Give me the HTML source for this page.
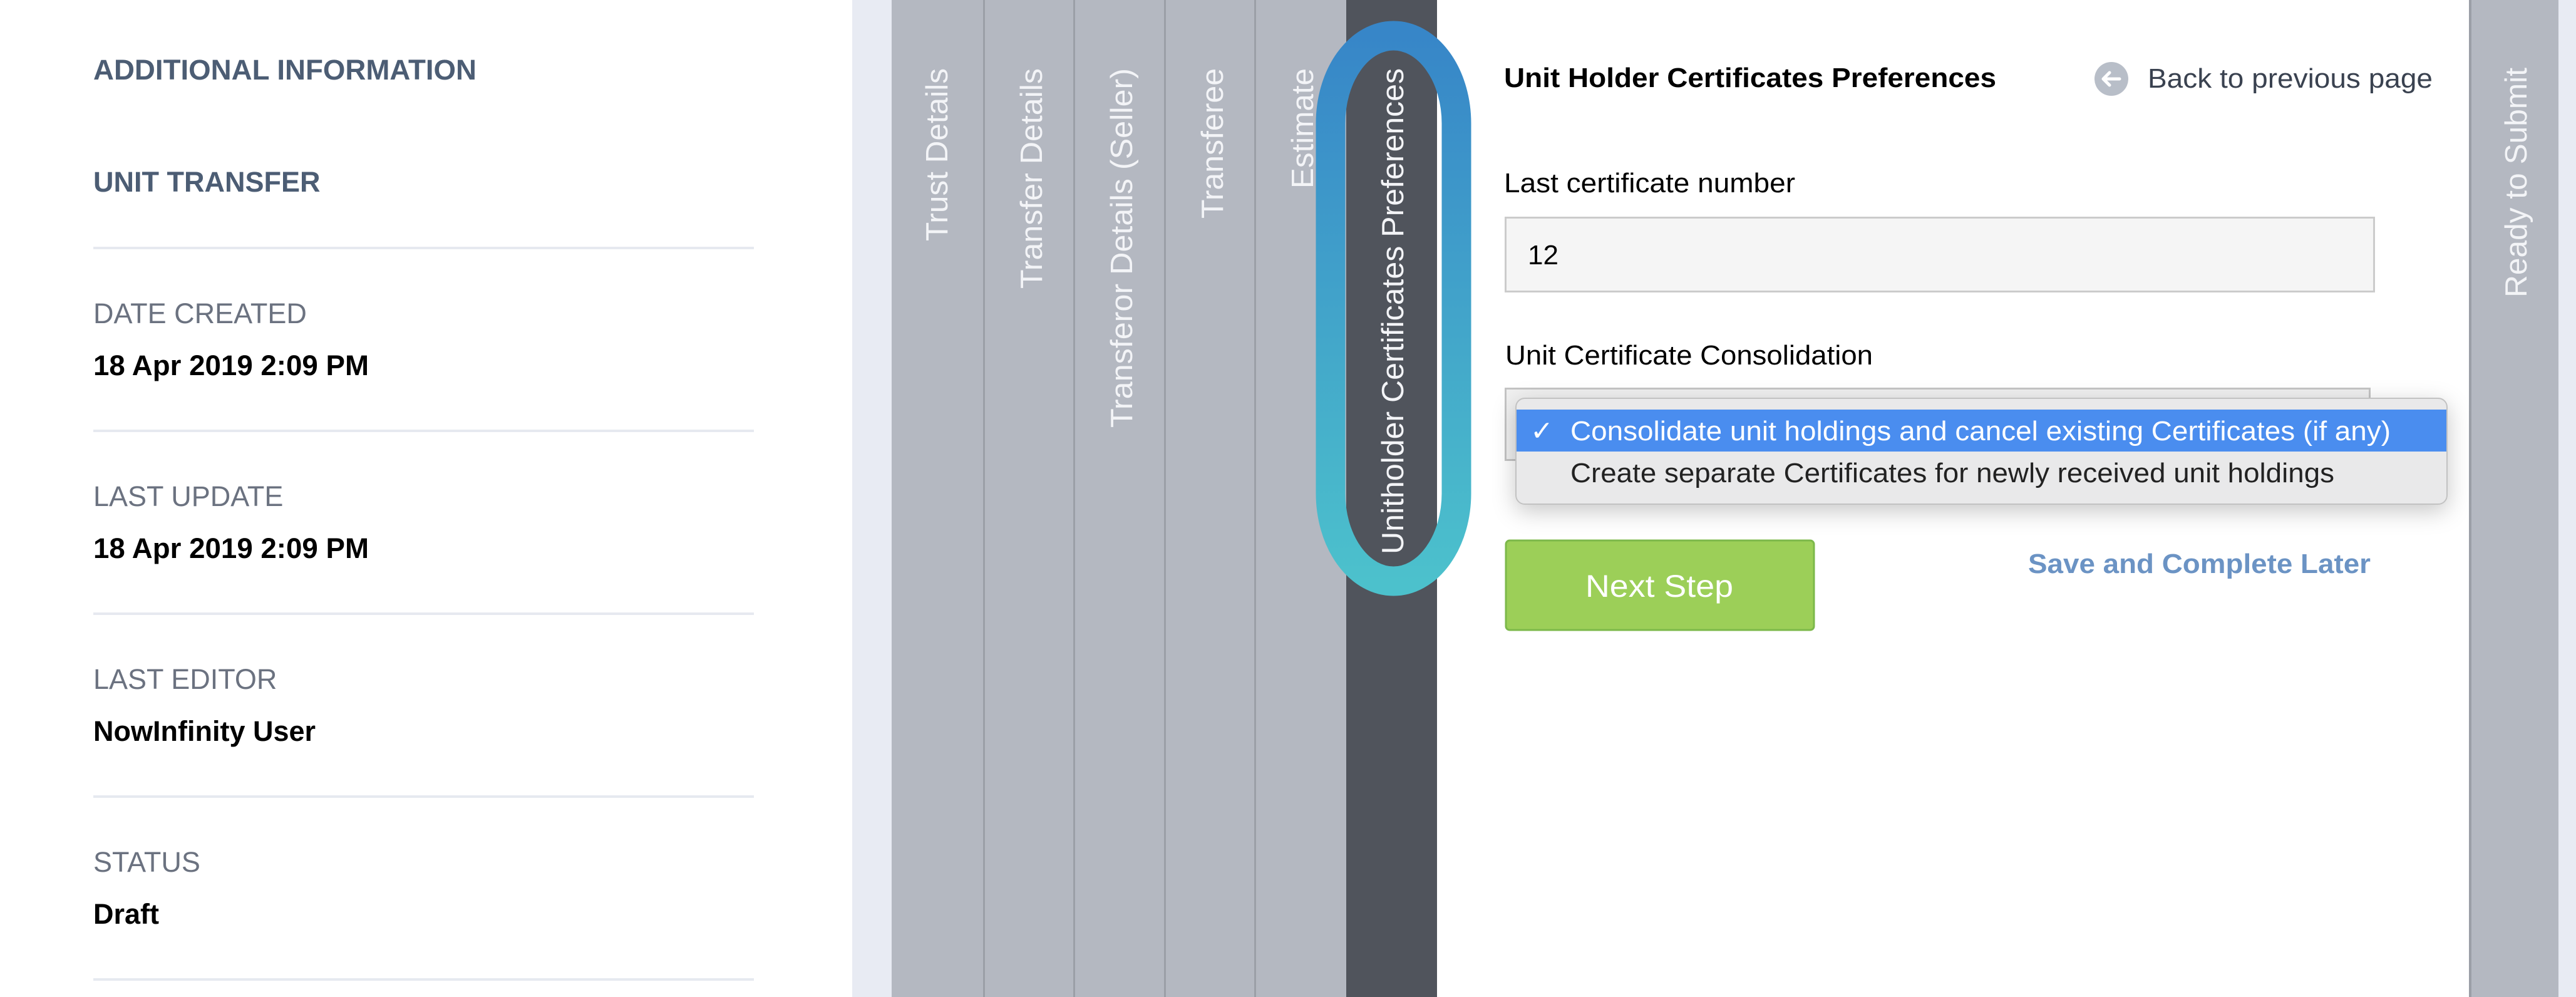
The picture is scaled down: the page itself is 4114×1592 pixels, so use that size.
<!DOCTYPE html>
<html><head><meta charset="utf-8"><style>html,body{margin:0;padding:0;background:#fff}svg{display:block}text{font-family:"Liberation Sans",Arial,sans-serif}</style></head>
<body>
<svg width="4114" height="1592" viewBox="0 0 4114 1592" xmlns="http://www.w3.org/2000/svg">
<defs>
<linearGradient id="g" x1="0" y1="0" x2="0" y2="1"><stop offset="0" stop-color="#3786c8"/><stop offset="1" stop-color="#4cc1cc"/></linearGradient>
<filter id="sh" x="-10%" y="-30%" width="120%" height="180%"><feDropShadow dx="0" dy="10" stdDeviation="18" flood-color="#000" flood-opacity="0.22"/></filter>
</defs>
<rect width="4114" height="1592" fill="#fff"/>
<g font-size="45">
<text x="149" y="127" font-weight="bold" fill="#4c5d74" textLength="612" lengthAdjust="spacingAndGlyphs">ADDITIONAL INFORMATION</text>
<text x="149" y="306" font-weight="bold" fill="#4c5d74">UNIT TRANSFER</text>
<g fill="#e6e9f0"><rect x="149" y="394" width="1055" height="4"/><rect x="149" y="686" width="1055" height="4"/><rect x="149" y="978" width="1055" height="4"/><rect x="149" y="1270" width="1055" height="4"/><rect x="149" y="1562" width="1055" height="4"/></g>
<g fill="#6b7280">
<text x="149" y="516">DATE CREATED</text>
<text x="149" y="808">LAST UPDATE</text>
<text x="149" y="1100">LAST EDITOR</text>
<text x="149" y="1392">STATUS</text>
</g>
<g fill="#000" font-weight="bold">
<text x="149" y="599" textLength="440" lengthAdjust="spacingAndGlyphs">18 Apr 2019 2:09 PM</text>
<text x="149" y="891" textLength="440" lengthAdjust="spacingAndGlyphs">18 Apr 2019 2:09 PM</text>
<text x="149" y="1183">NowInfinity User</text>
<text x="149" y="1475">Draft</text>
</g>
</g>
<rect x="1361" y="0" width="63" height="1592" fill="#e8ebf3"/>
<rect x="1424" y="0" width="726" height="1592" fill="#b4b8c1"/>
<g fill="#9b9fa7"><rect x="1570" y="0" width="3" height="1592"/><rect x="1714" y="0" width="3" height="1592"/><rect x="1859" y="0" width="3" height="1592"/><rect x="2003" y="0" width="3" height="1592"/></g>
<rect x="2150" y="0" width="145" height="1592" fill="#50545c"/>
<rect x="3943" y="0" width="143" height="1592" fill="#b4b8c1"/>
<rect x="3943" y="0" width="4" height="1592" fill="#9b9fa7"/>
<rect x="4086" y="0" width="28" height="1592" fill="#e8ebf3"/>
<g font-size="49" fill="#f3f4f7" text-anchor="end">
<text transform="translate(1513,109) rotate(-90)" textLength="276" lengthAdjust="spacingAndGlyphs">Trust Details</text>
<text transform="translate(1664,109) rotate(-90)" textLength="352" lengthAdjust="spacingAndGlyphs">Transfer Details</text>
<text transform="translate(1808,109) rotate(-90)" textLength="574" lengthAdjust="spacingAndGlyphs">Transferor Details (Seller)</text>
<text transform="translate(1953,109) rotate(-90)" textLength="240" lengthAdjust="spacingAndGlyphs">Transferee</text>
<text transform="translate(2097,109) rotate(-90)" textLength="192" lengthAdjust="spacingAndGlyphs">Estimate</text>
<text transform="translate(2241,109) rotate(-90)" textLength="776" lengthAdjust="spacingAndGlyphs">Unitholder Certificates Preferences</text>
<text transform="translate(4035,108) rotate(-90)" textLength="367" lengthAdjust="spacingAndGlyphs">Ready to Submit</text>
</g>
<rect x="2125" y="57" width="201" height="871" rx="100.5" ry="140" fill="none" stroke="url(#g)" stroke-width="47"/>
<text x="2402" y="139" font-size="44" font-weight="bold" fill="#000" textLength="786" lengthAdjust="spacingAndGlyphs">Unit Holder Certificates Preferences</text>
<circle cx="3372" cy="126" r="27" fill="#b8bec8"/>
<path d="M3385 126 H3360 M3369 116 L3359 126 L3369 136" stroke="#fff" stroke-width="5" fill="none" stroke-linecap="round" stroke-linejoin="round"/>
<text x="3430" y="140" font-size="44" fill="#3a4250" textLength="455" lengthAdjust="spacingAndGlyphs">Back to previous page</text>
<text x="2402" y="307" font-size="44" fill="#000" textLength="465" lengthAdjust="spacingAndGlyphs">Last certificate number</text>
<rect x="2404.5" y="347.5" width="1387" height="118" fill="#f5f5f5" stroke="#cbcbcb" stroke-width="3"/>
<text x="2440" y="422" font-size="44" fill="#000">12</text>
<text x="2404" y="582" font-size="44" fill="#000" textLength="587" lengthAdjust="spacingAndGlyphs">Unit Certificate Consolidation</text>
<rect x="2404.5" y="620.5" width="1380" height="114" fill="#f0f0f0" stroke="#c4c4c4" stroke-width="3"/>
<g filter="url(#sh)"><rect x="2421" y="636" width="1487" height="169" rx="14" fill="#e9e9ea" stroke="#c2c2c2" stroke-width="2"/></g>
<rect x="2422" y="654" width="1485" height="67" fill="#4a8def"/>
<text x="2444" y="703" font-size="44" fill="#fff">✓</text>
<text x="2508" y="703" font-size="44" fill="#fff" textLength="1310" lengthAdjust="spacingAndGlyphs">Consolidate unit holdings and cancel existing Certificates (if any)</text>
<text x="2508" y="770" font-size="44" fill="#222" textLength="1220" lengthAdjust="spacingAndGlyphs">Create separate Certificates for newly received unit holdings</text>
<rect x="2405" y="863" width="492" height="143" rx="6" fill="#9ccf58" stroke="#7cb84a" stroke-width="3"/>
<text x="2532" y="953" font-size="50" fill="#fff" textLength="236" lengthAdjust="spacingAndGlyphs">Next Step</text>
<text x="3786" y="915" font-size="44" font-weight="bold" fill="#6b93c4" text-anchor="end" textLength="547" lengthAdjust="spacingAndGlyphs">Save and Complete Later</text>
</svg>
</body></html>
